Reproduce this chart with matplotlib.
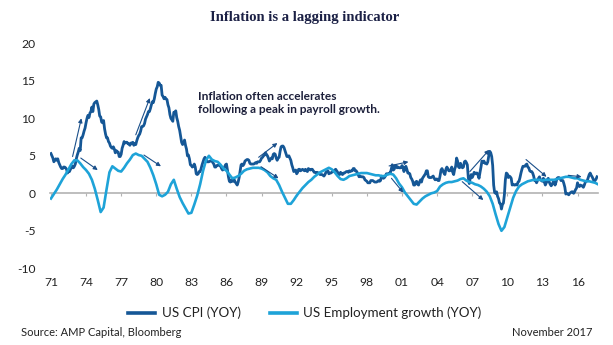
import numpy as np
import matplotlib
matplotlib.use("Agg")
import matplotlib.pyplot as plt
from matplotlib.lines import Line2D

# ---------------- data ----------------
cpi_start = 1971.0  # monthly, Jan 1971 onwards
cpi_yoy = [
    5.3, 5.0, 4.7, 4.2, 4.4, 4.6, 4.4, 4.6, 4.1, 3.8, 3.5, 3.3,
    3.3, 3.5, 3.5, 3.4, 3.2, 2.7, 2.9, 2.9, 3.2, 3.4, 3.6, 3.4,
    3.6, 3.9, 4.6, 5.1, 5.5, 6.0, 5.7, 7.4, 7.4, 7.8, 8.3, 8.7,
    9.4, 10.0, 10.4, 10.1, 10.7, 10.9, 11.5, 10.9, 11.9, 12.1, 12.2, 12.3,
    11.8, 11.2, 10.3, 10.2, 9.5, 9.4, 9.7, 8.6, 7.9, 7.4, 7.4, 6.9,
    6.7, 6.3, 6.1, 6.0, 6.2, 5.9, 5.4, 5.7, 5.5, 5.5, 4.9, 4.9,
    5.2, 6.0, 6.4, 6.9, 6.7, 6.8, 6.8, 6.6, 6.6, 6.4, 6.7, 6.7,
    6.8, 6.4, 6.6, 6.5, 7.0, 7.4, 7.7, 7.9, 8.3, 8.9, 8.9, 9.0,
    9.3, 9.9, 10.2, 10.5, 10.9, 10.9, 11.3, 11.8, 12.2, 12.1, 12.6, 13.3,
    13.9, 14.2, 14.8, 14.7, 14.4, 14.4, 13.1, 12.9, 12.6, 12.8, 12.6, 12.5,
    11.8, 11.4, 10.5, 10.0, 9.8, 9.6, 10.8, 10.8, 11.0, 10.1, 9.6, 8.9,
    8.4, 7.6, 6.8, 6.5, 6.7, 7.1, 6.4, 5.9, 5.0, 5.1, 4.6, 3.8,
    3.7, 3.5, 3.6, 3.9, 3.5, 2.6, 2.5, 2.6, 2.9, 2.9, 3.3, 3.8,
    4.2, 4.6, 4.8, 4.6, 4.2, 4.2, 4.2, 4.3, 4.3, 4.3, 4.1, 3.9,
    3.5, 3.5, 3.7, 3.7, 3.8, 3.8, 3.6, 3.3, 3.1, 3.2, 3.5, 3.8,
    3.9, 3.1, 2.2, 1.6, 1.5, 1.8, 1.6, 1.6, 1.8, 1.5, 1.3, 1.1,
    1.5, 2.1, 3.0, 3.8, 3.9, 3.7, 3.9, 4.3, 4.4, 4.5, 4.5, 4.4,
    4.0, 3.9, 3.9, 3.9, 3.9, 4.0, 4.1, 4.0, 4.2, 4.2, 4.2, 4.4,
    4.7, 4.8, 5.0, 5.1, 5.4, 5.2, 5.0, 4.7, 4.3, 4.5, 4.7, 4.6,
    5.2, 5.3, 5.2, 4.7, 4.4, 4.7, 4.8, 5.6, 6.2, 6.3, 6.3, 6.1,
    5.7, 5.3, 4.9, 4.9, 5.0, 4.7, 4.4, 3.8, 3.4, 2.9, 3.0, 3.1,
    2.6, 2.8, 3.2, 3.2, 3.0, 3.1, 3.2, 3.1, 3.0, 3.2, 3.0, 2.9,
    3.3, 3.2, 3.1, 3.2, 3.2, 3.0, 2.8, 2.8, 2.7, 2.8, 2.7, 2.7,
    2.5, 2.5, 2.5, 2.4, 2.3, 2.5, 2.8, 2.9, 3.0, 2.6, 2.7, 2.7,
    2.8, 2.9, 2.9, 3.1, 3.2, 3.0, 2.8, 2.6, 2.5, 2.8, 2.6, 2.5,
    2.7, 2.7, 2.8, 2.9, 2.9, 2.8, 3.0, 2.9, 3.0, 3.0, 3.3, 3.3,
    3.0, 3.0, 2.8, 2.5, 2.2, 2.3, 2.2, 2.2, 2.2, 2.1, 1.8, 1.7,
    1.6, 1.4, 1.4, 1.4, 1.7, 1.7, 1.7, 1.6, 1.5, 1.5, 1.5, 1.6,
    1.7, 1.6, 1.7, 2.3, 2.1, 2.0, 2.1, 2.3, 2.6, 2.6, 2.6, 2.7,
    2.7, 3.2, 3.8, 3.1, 3.2, 3.7, 3.7, 3.4, 3.5, 3.4, 3.4, 3.4,
    3.7, 3.5, 2.9, 3.3, 3.6, 3.2, 2.7, 2.7, 2.6, 2.1, 1.9, 1.6,
    1.1, 1.1, 1.5, 1.6, 1.2, 1.1, 1.5, 1.8, 1.5, 2.0, 2.2, 2.4,
    2.6, 3.0, 3.0, 2.2, 2.1, 2.1, 2.1, 2.2, 2.3, 2.0, 1.8, 1.9,
    1.9, 1.7, 1.7, 2.3, 3.1, 3.3, 3.0, 2.7, 2.5, 3.2, 3.5, 3.3,
    3.0, 3.0, 3.1, 3.5, 2.8, 2.5, 3.2, 3.6, 4.7, 4.3, 3.5, 3.4,
    4.0, 3.6, 3.4, 3.5, 4.2, 4.3, 4.1, 3.8, 2.1, 1.3, 2.0, 2.5,
    2.1, 2.4, 2.8, 2.6, 2.7, 2.7, 2.4, 2.0, 2.8, 3.5, 4.3, 4.1,
    4.3, 4.0, 4.0, 3.9, 4.2, 5.0, 5.6, 5.4, 4.9, 3.7, 1.1, 0.1,
    0.0, 0.2, -0.4, -0.7, -1.3, -1.4, -2.1, -1.5, -1.3, -0.2, 1.8, 2.7,
    2.6, 2.1, 2.3, 2.2, 2.0, 1.1, 1.2, 1.1, 1.1, 1.2, 1.1, 1.5,
    1.6, 2.1, 2.7, 3.2, 3.6, 3.6, 3.6, 3.8, 3.9, 3.5, 3.4, 3.0,
    2.9, 2.9, 2.7, 2.3, 1.7, 1.7, 1.4, 1.7, 2.0, 2.2, 1.8, 1.7,
    1.6, 2.0, 1.5, 1.1, 1.4, 1.8, 2.0, 1.5, 1.2, 1.0, 1.2, 1.5,
    1.6, 1.1, 1.5, 2.0, 2.1, 2.1, 2.0, 1.7, 1.7, 1.7, 1.3, 0.8,
    -0.1, 0.0, -0.1, -0.2, 0.0, 0.1, 0.2, 0.2, 0.0, 0.2, 0.5, 0.7,
    1.4, 1.0, 0.9, 1.1, 1.0, 1.0, 0.8, 1.1, 1.5, 1.6, 1.7, 2.1,
    2.5, 2.7, 2.4, 2.2, 1.9, 1.6, 1.7, 1.9, 2.2,
]

emp_start = 1971.0  # quarterly, Q1 1971 onwards
emp_yoy = [
    -0.7, -0.1, 0.5, 1.2,
    1.9, 2.5, 3.2, 3.9,
    4.4, 4.4, 4.0, 3.5,
    3.1, 2.6, 1.8, 0.6,
    -0.9, -2.5, -1.9, 0.5,
    2.8, 3.6, 3.3, 3.0,
    2.9, 3.4, 4.0, 4.5,
    5.1, 5.3, 5.1, 5.0,
    4.6, 4.2, 3.4, 2.4,
    1.2, -0.2, -0.4, -0.2,
    0.2, 1.2, 1.8, 0.6,
    -0.5, -1.3, -2.0, -2.7,
    -2.6, -1.5, -0.3, 1.2,
    3.0, 4.4, 5.0, 4.5,
    4.3, 4.2, 3.8, 3.3,
    3.0, 2.5, 2.0, 2.1,
    2.3, 2.6, 3.0, 3.2,
    3.3, 3.4, 3.4, 3.4,
    3.3, 3.1, 2.8, 2.3,
    2.0, 1.8, 1.1, 0.2,
    -0.6, -1.4, -1.4, -0.9,
    -0.3, 0.2, 0.7, 1.1,
    1.5, 1.8, 2.2, 2.5,
    2.8, 3.0, 3.2, 3.4,
    3.2, 2.8, 2.3, 1.9,
    1.8, 2.0, 2.3, 2.4,
    2.5, 2.6, 2.7, 2.7,
    2.7, 2.6, 2.5, 2.4,
    2.4, 2.3, 2.3, 2.5,
    2.6, 2.5, 2.0, 1.3,
    0.8, 0.1, -0.4, -0.9,
    -1.4, -1.5, -1.1, -0.7,
    -0.4, -0.2, 0.0, 0.1,
    0.3, 0.9, 1.2, 1.4,
    1.5, 1.5, 1.6, 1.7,
    1.9, 2.0, 1.7, 1.5,
    1.4, 1.2, 1.1, 0.9,
    0.6, 0.2, -0.4, -1.4,
    -2.8, -4.1, -5.0, -4.5,
    -3.2, -1.9, -0.6, 0.3,
    0.9, 1.2, 1.4, 1.6,
    1.7, 1.8, 1.8, 1.8,
    1.7, 1.8, 1.8, 1.8,
    1.8, 1.9, 2.0, 2.1,
    2.2, 2.2, 2.1, 2.0,
    2.0, 1.8, 1.7, 1.6,
    1.6, 1.5, 1.4, 1.2,
]

year_ticks = [1971, 1974, 1977, 1980, 1983, 1986, 1989, 1992, 1995,
              1998, 2001, 2004, 2007, 2010, 2013, 2016]
year_labels = ["71", "74", "77", "80", "83", "86", "89", "92", "95",
               "98", "01", "04", "07", "10", "13", "16"]
y_ticks = [-10, -5, 0, 5, 10, 15, 20]

# arrows: (x_start, y_start, x_end, y_end)
arrow_segments = [
    (1972.85, 4.9, 1973.6, 10.0),
    (1973.55, 4.7, 1975.0, 3.1),
    (1978.25, 7.8, 1979.45, 12.7),
    (1978.95, 5.1, 1980.4, 3.6),
    (1988.75, 4.8, 1990.35, 6.7),
    (1988.95, 3.55, 1990.45, 2.0),
    (1999.9, 3.65, 2001.55, 4.2),
    (2000.1, 2.0, 2001.1, 0.1),
    (2006.8, 2.9, 2008.45, 5.8),
    (2006.15, 1.55, 2007.95, -0.9),
    (2011.6, 4.5, 2013.35, 2.2),
    (2015.2, 2.4, 2016.35, 2.2),
]

# ---------------- style ----------------
CPI_COLOR = "#155796"
EMP_COLOR = "#1ea3d8"
TEXT_COLOR = "#1c1f3a"
ZERO_COLOR = "#b3b3b3"
FONT = ["Lato", "DejaVu Sans"]

plt.rcParams["font.family"] = FONT

fig = plt.figure(figsize=(6.13, 3.45), dpi=100)
ax = fig.add_axes([50 / 613, 1 - 268.3 / 345, 548 / 613, 225 / 345])

cpi_x = cpi_start + np.arange(len(cpi_yoy)) / 12.0
emp_x = emp_start + np.arange(len(emp_yoy)) / 4.0

ax.plot(cpi_x, cpi_yoy, color=CPI_COLOR, lw=2.0, label="US CPI (YOY)",
        solid_joinstyle="round", zorder=3)
ax.plot(emp_x, emp_yoy, color=EMP_COLOR, lw=1.9,
        label="US Employment growth (YOY)", solid_joinstyle="round", zorder=4)

ax.set_xlim(1970.92, 2017.75)
ax.set_ylim(-10, 20)

for s in ["top", "right", "left"]:
    ax.spines[s].set_visible(False)
ax.spines["bottom"].set_position(("data", 0))
ax.spines["bottom"].set_color(ZERO_COLOR)
ax.spines["bottom"].set_linewidth(1.2)
ax.spines["bottom"].set_zorder(2)
ax.set_xticks(year_ticks)
ax.tick_params(axis="x", direction="out", length=2.5, width=0.8,
               color=ZERO_COLOR, labelbottom=False)

ax.set_yticks(y_ticks)
ax.set_yticklabels([str(v) for v in y_ticks])
ax.tick_params(axis="y", length=0, pad=10.5, labelsize=8.7,
               labelcolor="#222222")

sec = ax.secondary_xaxis(0)
sec.set_xticks(year_ticks)
sec.set_xticklabels(year_labels)
sec.spines["bottom"].set_visible(False)
sec.tick_params(axis="x", length=0, pad=6.5, labelsize=8.7,
                labelcolor="#222222")

for (x0, y0, x1, y1) in arrow_segments:
    ax.annotate("", xy=(x1, y1), xytext=(x0, y0),
                arrowprops=dict(arrowstyle="-|>", color="#1a4f8a", lw=0.8,
                                mutation_scale=6, shrinkA=0, shrinkB=0),
                zorder=5)

ax.text(0.2706, 0.787, "Inflation often accelerates\nfollowing a peak in payroll growth.",
        transform=ax.transAxes, fontsize=8.6, fontweight="bold",
        color=TEXT_COLOR, va="top", ha="left", linespacing=1.25)

fig.text(0.497, 1 - 18 / 345, "Inflation is a lagging indicator",
         ha="center", va="center", fontsize=10.5, fontweight="bold",
         family=["Liberation Serif", "DejaVu Serif"], color="#1b2045")

handles = [Line2D([], [], color=CPI_COLOR, lw=2.6),
           Line2D([], [], color=EMP_COLOR, lw=2.6)]
fig.legend(handles, ["US CPI (YOY)", "US Employment growth (YOY)"],
           loc="center", bbox_to_anchor=(305 / 613, 1 - 313 / 345),
           ncol=2, frameon=False, fontsize=9.6, handlelength=2.0,
           handletextpad=0.5, columnspacing=2.2, labelcolor="#222222")

fig.text(21 / 613, 1 - 332 / 345, "Source: AMP Capital, Bloomberg",
         ha="left", va="center", fontsize=8, color="#222222")
fig.text(592 / 613, 1 - 332 / 345, "November 2017",
         ha="right", va="center", fontsize=8, color="#222222")

fig.savefig("out.png", dpi=100)
